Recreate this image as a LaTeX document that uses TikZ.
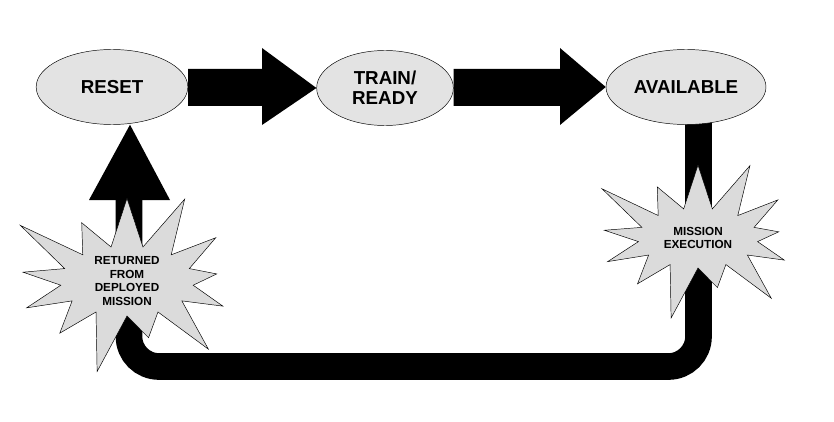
\documentclass[tikz,border=0pt]{standalone}
\usepackage{fontspec}
\setmainfont{Liberation Sans}
\usetikzlibrary{shapes.geometric,shapes.symbols,backgrounds}
\begin{document}
\begin{tikzpicture}[x=0.03cm,y=-0.03cm,
  oval/.style={ellipse,draw,thin,fill=gray!22,minimum width=#1,inner sep=0pt,minimum height=2.25cm,font=\bfseries\fontsize{16}{17}\selectfont,align=center},
  burst/.style={starburst,starburst points=13,draw,thin,fill=gray!28,font=\bfseries\fontsize{10}{11.5}\selectfont,align=center,inner sep=0pt},
  big/.style={fill=black,draw=none}]
\useasboundingbox (0,0) rectangle (834,422);
\node[oval=4.55cm] (reset) at (112,87) {RESET};
\node[oval=4.1cm] (train) at (385,88) {TRAIN/\\READY};
\node[oval=4.8cm] (avail) at (686,87) {AVAILABLE};
\node[burst,minimum width=8.0cm,minimum height=6.1cm,starburst point height=2.0cm] (ret) at (127,281) {RETURNED\\FROM\\DEPLOYED\\MISSION};
\node[burst,minimum width=7.2cm,minimum height=5.4cm,starburst point height=1.8cm] (mis) at (698,238) {MISSION\\EXECUTION};
\begin{scope}[on background layer]
\fill[big] (reset.east |- 0,69) -- (262,69) -- (262,48) -- (train.west) -- (262,125) -- (262,106) -- (reset.east |- 0,106) -- cycle;
\fill[big] (train.east |- 0,69) -- (560,69) -- (560,48) -- (avail.west) -- (560,125) -- (560,106) -- (train.east |- 0,106) -- cycle;
\coordinate (bl) at (129,366.5);
\coordinate (br) at (698.5,366.5);
\draw[line width=0.8cm,rounded corners=0.9cm] (698.5,120) -- (br) -- (bl) -- (129,198);
\fill[big] (89,200) -- (reset.south -| 130,0) -- (170,200) -- cycle;
\end{scope}
\end{tikzpicture}
\end{document}
